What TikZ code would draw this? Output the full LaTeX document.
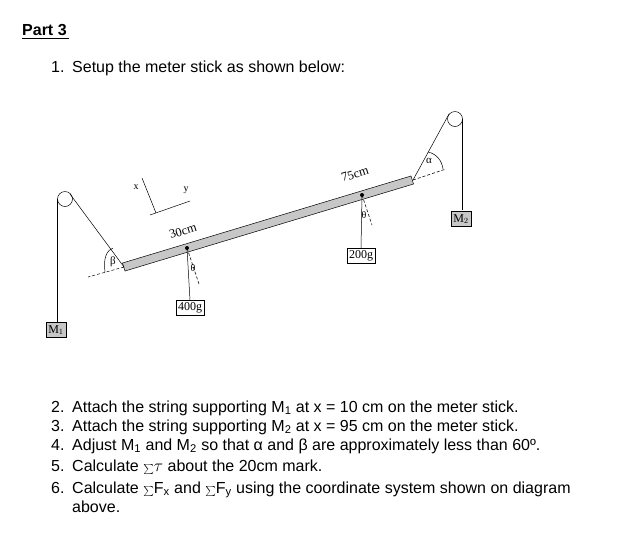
\documentclass[tikz,border=0pt]{standalone}
\usepackage{fontspec}
\setmainfont{Liberation Sans}
\newfontfamily\ser{Liberation Serif}
\begin{document}
\begin{tikzpicture}[x=1pt,y=-1pt,
  txt/.style={anchor=base west,inner sep=0pt,font=\fontsize{16}{18}\selectfont},
  lbl/.style={inner sep=0pt,font=\ser\fontsize{12.5}{14}\selectfont},
  box/.style={draw,line width=0.6pt,inner sep=2pt,font=\ser\fontsize{12}{14}\selectfont},
  str/.style={line width=0.5pt},
  dsh/.style={line width=0.5pt,dash pattern=on 3pt off 2pt}]
\useasboundingbox (0,0) rectangle (617,539);
\newcommand\bigsum{\raisebox{-1pt}{\large$\sum$}}
% text
\node[txt,font=\bfseries\fontsize{16}{18}\selectfont] (p3) at (22,35) {Part 3};
\draw[line width=0.7pt] (22,38) -- (69,38);
\node[txt] (n1) at (51,72) {1.};
\node[txt] (t1) at (72,72) {Setup the meter stick as shown below:};
\node[txt] (n2) at (51,412) {2.};
\node[txt] (t2) at (72,412) {Attach the string supporting M\textsubscript{1} at x = 10 cm on the meter stick.};
\node[txt] (n3) at (51,431) {3.};
\node[txt] (t3) at (72,431) {Attach the string supporting M\textsubscript{2} at x = 95 cm on the meter stick.};
\node[txt] (n4) at (51,450) {4.};
\node[txt] (t4) at (72,450) {Adjust M\textsubscript{1} and M\textsubscript{2} so that α and β are approximately less than 60º.};
\node[txt] (n5) at (51,471) {5.};
\node[txt] (t5) at (72,471) {Calculate \bigsum$\tau$ about the 20cm mark.};
\node[txt] (n6) at (51,493) {6.};
\node[txt] (t6) at (72,493) {Calculate \bigsum F\textsubscript{x} and \bigsum F\textsubscript{y} using the coordinate system shown on diagram};
\node[txt] (t6b) at (72,512) {above.};
% stick
\draw[fill=black!22,line width=0.5pt] (122.5,263) -- (411,176) -- (413.5,184) -- (125,271) -- cycle;
\coordinate (L) at (124,267);
\coordinate (R) at (413,180);
\coordinate (d30) at (187,248);
\coordinate (d75) at (362,195);
\fill (d30) circle (2);
\fill (d75) circle (2);
\node[lbl,rotate=16.7] (l30) at (183,231) {30cm};
\node[lbl,rotate=16.7] (l75) at (355,174) {75cm};
% hanging masses
\node[box] (m400) at (190,308) {400g};
\node[box] (m200) at (361,256) {200g};
\draw[str] (d30) -- (m400.north);
\draw[str] (d75) -- (m200.north);
\draw[dsh] (d30) -- ++(12,36);
\draw[dsh] (d75) -- ++(10,30);
\node[lbl,font=\ser\fontsize{10}{11}\selectfont] (th1) at (193,268) {θ};
\node[lbl,font=\ser\fontsize{10}{11}\selectfont] (th2) at (364,215) {θ};
% left pulley
\node[draw,circle,minimum size=15pt,inner sep=0pt,line width=0.5pt] (pl) at (65,199) {};
\node[draw,fill=black!22,inner sep=2.5pt,font=\ser\fontsize{12}{14}\selectfont] (M1) at (56,330) {M$_1$};
\draw[str] (57.5,199) -- (M1.north -| 57.5,0);
\draw[str] (70,194) -- (L);
\draw[dsh] (L) -- (88,277);
\draw[str] (105,272) .. controls (103,258) and (107,250) .. (113,248);
\node[lbl,font=\ser\fontsize{11}{12}\selectfont] (beta) at (113,262) {β};
% right pulley
\node[draw,circle,minimum size=15pt,inner sep=0pt,line width=0.5pt] (pr) at (455,119) {};
\draw[str] (462.5,119) -- (462.5,210);
\node[draw,fill=black!22,inner sep=2.5pt,font=\ser\fontsize{12}{14}\selectfont] (M2) at (461,219) {M$_2$};
\draw[str] (449,114) -- (R);
\draw[dsh] (R) -- (446,169);
\draw[str] (428,152) .. controls (437,154) and (442,161) .. (443,169);
\node[lbl,font=\ser\fontsize{11}{12}\selectfont] (alpha) at (429,161) {α};
% axes
\coordinate (O) at (156,213);
\draw[str] (O) -- (142,178);
\draw[str] (150,215) -- (190,201);
\node[lbl,font=\ser\fontsize{10}{11}\selectfont] (xl) at (136,187) {x};
\node[lbl,font=\ser\fontsize{10}{11}\selectfont] (yl) at (186,190) {y};
\end{tikzpicture}
\end{document}
